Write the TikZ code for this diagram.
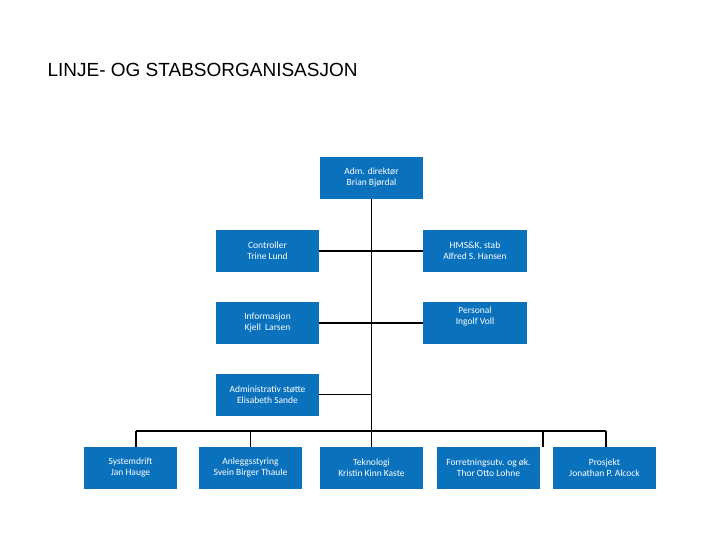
\documentclass[tikz,border=0pt]{standalone}
\usepackage{fontspec}
\setmainfont{Liberation Sans}
\newfontfamily\boxfont{Carlito}
\definecolor{bx}{HTML}{0A72BD}
\begin{document}
\begin{tikzpicture}[x=1pt,y=-1pt,
  org/.style={fill=bx,text=white,inner sep=0pt,font=\boxfont\fontsize{9.5}{11}\selectfont,align=center,minimum height=42pt},
  ln/.style={draw=black,line width=1.3pt}]
\useasboundingbox (0,0) rectangle (728,546);
\node[anchor=west,font=\fontsize{19}{22}\selectfont] (title) at (44,70) {LINJE- OG STABSORGANISASJON};
\node[org,minimum width=103pt] (adm) at (371.5,178) {Adm. direktør\\Brian Bjørdal};
\node[org,minimum width=103pt] (ctrl) at (267.5,251) {Controller\\Trine Lund};
\node[org,minimum width=104pt] (hms) at (475,251) {HMS\&K, stab\\Alfred S. Hansen};
\node[org,minimum width=103pt] (info) at (267.5,323) {Informasjon\\Kjell\ \ Larsen};
\node[org,minimum width=104pt,text depth=14pt,minimum height=42pt] (pers) at (475,323) {Personal\\Ingolf Voll};
\node[org,minimum width=103pt] (adst) at (267.5,394.5) {Administrativ støtte\\Elisabeth Sande};
\node[org,minimum width=93pt] (sys) at (130.5,468) {Systemdrift\\Jan Hauge};
\node[org,minimum width=103pt] (anl) at (250.5,468) {Anleggsstyring\\Svein Birger Thaule};
\node[org,minimum width=103pt] (tek) at (371.5,468) {Teknologi\\Kristin Kinn Kaste};
\node[org,minimum width=103pt] (for) at (488.5,468) {Forretningsutv. og øk.\\Thor Otto Lohne};
\node[org,minimum width=103pt] (pro) at (604.5,468) {Prosjekt\\Jonathan P. Alcock};
\coordinate (bl) at (136,431);
\coordinate (br) at (606,431);
\draw[ln] (adm.south) -- (tek.north);
\draw[ln] (ctrl.east) -- (hms.west);
\draw[ln] (info.east) -- (pers.west);
\draw[ln] (adst.east) -- (adst.east -| adm.south);
\draw[ln] (bl) -- (br);
\draw[ln] (bl) -- (bl |- sys.north);
\draw[ln] (br) -- (br |- pro.north);
\draw[ln] (anl.north |- bl) -- (anl.north);
\draw[ln] (543,431) -- (543,447);
\end{tikzpicture}
\end{document}
